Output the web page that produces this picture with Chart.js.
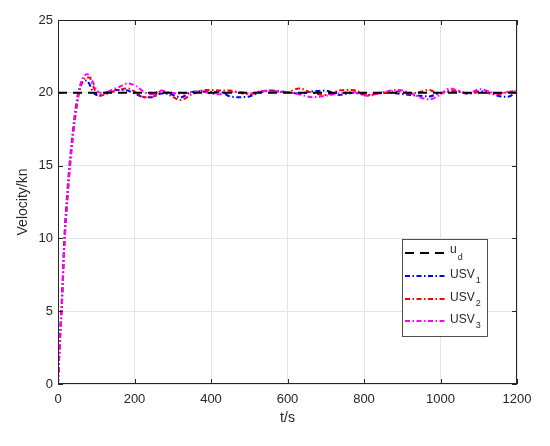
<!DOCTYPE html>
<html>
<head>
<meta charset="utf-8">
<script src="https://cdn.jsdelivr.net/npm/chart.js@4/dist/chart.umd.min.js"></script>
<style>
  html, body { margin: 0; padding: 0; background: #fff; }
  #wrap { width: 550px; height: 446px; }
</style>
</head>
<body>
<div id="wrap"><canvas id="vel"></canvas></div>
<script>
// time samples (s)
times = [0,5,10,17,25,32,40,47,53,60,68,75,82,90,100,110,125,140,160,183,
         205,225,245,270,295,320,350,375,400,425,450,475,500,530,555,580,600,630,665,700,
         735,770,810,850,890,920,945,970,995,1025,1050,1070,1105,1130,1150,1175,1200]

// desired speed u_d
udTimes = [0, 1200]
udVals = [20, 20]

// velocity of each USV (kn)
usv1 = [0,3.2,5.8,10.2,13.4,15.6,17.6,19.1,20.0,20.55,
        20.8,20.85,20.6,20.15,19.85,19.85,20.0,20.15,20.2,20.15,
        19.9,19.7,19.7,19.95,19.9,19.7,20.05,20.1,20.05,20.05,
        19.75,19.7,19.75,20.05,20.15,20.1,20.05,19.95,20.1,20.15,
        19.85,20.0,19.85,20.0,19.95,19.85,19.8,19.75,19.95,20.07,
        20.05,19.95,20.1,20.0,19.8,19.72,20.05]
usv2 = [0,2.8,5.3,9.6,12.8,15.1,17.2,18.7,19.7,20.5,
        20.95,21.05,21.05,20.6,20.0,19.8,19.9,20.05,20.2,20.3,
        20.0,19.7,19.7,20.1,19.8,19.5,19.9,20.15,20.2,20.15,
        20.15,20.0,19.9,20.1,20.15,20.05,20.05,20.3,20.0,19.85,
        20.15,20.2,19.85,20.0,20.1,19.95,20.05,20.2,19.95,20.15,
        20.1,19.95,20.05,19.95,19.9,20.05,20.15]
usv3 = [0,3.0,5.5,9.8,13.0,15.3,17.4,18.9,19.9,20.7,
        21.15,21.28,21.2,20.8,20.25,20.0,20.0,20.2,20.4,20.65,
        20.45,20.05,19.9,20.15,20.0,19.95,20.05,20.1,19.95,19.9,
        20.05,20.05,19.95,20.1,20.15,20.05,20.05,19.9,19.7,19.8,
        19.95,20.05,19.8,20.05,20.2,20.0,19.7,19.55,19.8,20.3,
        20.1,19.95,20.25,20.05,19.95,20.05,20.1]

xTicks = [0,200,400,600,800,1000,1200]
yTicks = [0,5,10,15,20,25]

legendNames = [['u','d'], ['USV','1'], ['USV','2'], ['USV','3']]
legendColors = ['#000000', '#0000ff', '#ff0000', '#ff00ff']
legendDash = [[9,6], [5,2.5,1.5,2.5], [5,2.5,1.5,2.5], [5,2.5,1.5,2.5]]

function pts(t, v) {
  return t.map((x, i) => ({x: x, y: v[i]}))
}

axisColor = '#262626'
fontFam = '"Liberation Sans", Arial, sans-serif'

// matlab style box, inward ticks and legend
boxPlugin = {
  id: 'matlabBox',
  afterDraw(chart) {
    const ctx = chart.ctx
    const a = chart.chartArea
    const xs = chart.scales.x, ys = chart.scales.y
    ctx.save()
    ctx.strokeStyle = axisColor
    ctx.lineWidth = 1
    ctx.strokeRect(a.left + 0.5, a.top + 0.5, a.right - a.left - 1, a.bottom - a.top - 1)
    ctx.beginPath()
    xTicks.forEach(t => {
      const px = Math.round(xs.getPixelForValue(t)) + 0.5
      ctx.moveTo(px, a.bottom); ctx.lineTo(px, a.bottom - 5)
      ctx.moveTo(px, a.top); ctx.lineTo(px, a.top + 5)
    })
    yTicks.forEach(t => {
      const py = Math.round(ys.getPixelForValue(t)) + 0.5
      ctx.moveTo(a.left, py); ctx.lineTo(a.left + 5, py)
      ctx.moveTo(a.right, py); ctx.lineTo(a.right - 5, py)
    })
    ctx.stroke()

    // legend
    const lx = 402, ly = 239, lw = 85, lh = 97
    ctx.fillStyle = '#fff'
    ctx.fillRect(lx, ly, lw, lh)
    ctx.strokeStyle = axisColor
    ctx.lineWidth = 0.8
    ctx.strokeRect(lx + 0.5, ly + 0.5, lw, lh)
    const rows = [253, 276, 299, 321]
    legendNames.forEach((nm, i) => {
      const y = rows[i]
      ctx.strokeStyle = legendColors[i]
      ctx.lineWidth = 2
      ctx.setLineDash(legendDash[i])
      ctx.beginPath()
      ctx.moveTo(405, y); ctx.lineTo(447, y)
      ctx.stroke()
      ctx.setLineDash([])
      ctx.fillStyle = axisColor
      ctx.textBaseline = 'middle'
      ctx.textAlign = 'left'
      ctx.font = '12px ' + fontFam
      ctx.fillText(nm[0], 450, nm[0] === 'u' ? y - 3 : y - 1)
      const w = ctx.measureText(nm[0]).width
      ctx.font = '9px ' + fontFam
      ctx.fillText(nm[1], 450 + w + 1, y + 5)
    })
    ctx.restore()
  }
}

lineStyle = {
  borderWidth: 2,
  pointRadius: 0,
  fill: false,
  cubicInterpolationMode: 'monotone'
}

config = {
  type: 'line',
  data: {
    datasets: [
      Object.assign({label: 'u_d', data: pts(udTimes, udVals), borderColor: '#000', borderDash: [9,6], order: 1}, lineStyle),
      Object.assign({label: 'USV1', data: pts(times, usv1), borderColor: '#0000ff', borderDash: [5,2.5,1.5,2.5], order: 4}, lineStyle),
      Object.assign({label: 'USV2', data: pts(times, usv2), borderColor: '#ff0000', borderDash: [5,2.5,1.5,2.5], order: 3}, lineStyle),
      Object.assign({label: 'USV3', data: pts(times, usv3), borderColor: '#ff00ff', borderDash: [5,2.5,1.5,2.5], order: 2}, lineStyle)
    ]
  },
  options: {
    responsive: true,
    maintainAspectRatio: false,
    animation: false,
    layout: { padding: {left: 11, top: 20, right: 33, bottom: 15} },
    plugins: { legend: {display: false}, tooltip: {enabled: false} },
    scales: {
      x: {
        type: 'linear', min: 0, max: 1200,
        afterBuildTicks: s => { s.ticks = xTicks.map(v => ({value: v})) },
        afterFit: s => { s.height = 47 },
        grid: { color: '#e4e4e4', drawTicks: false },
        border: { display: false },
        ticks: { color: axisColor, padding: 8, maxRotation: 0,
                 callback: v => String(v),
                 font: {family: fontFam, size: 13} },
        title: { display: true, text: 't/s', color: axisColor,
                 font: {family: fontFam, size: 14} }
      },
      y: {
        min: 0, max: 25,
        afterBuildTicks: s => { s.ticks = yTicks.map(v => ({value: v})) },
        afterFit: s => { s.width = 47 },
        grid: { color: '#e4e4e4', drawTicks: false },
        border: { display: false },
        ticks: { color: axisColor, padding: 5,
                 callback: v => String(v),
                 font: {family: fontFam, size: 13} },
        title: { display: true, text: 'Velocity/kn', color: axisColor,
                 font: {family: fontFam, size: 14} }
      }
    }
  },
  plugins: [boxPlugin]
}

var velChart = new Chart(document.getElementById('vel'), config)
</script>
</body>
</html>
